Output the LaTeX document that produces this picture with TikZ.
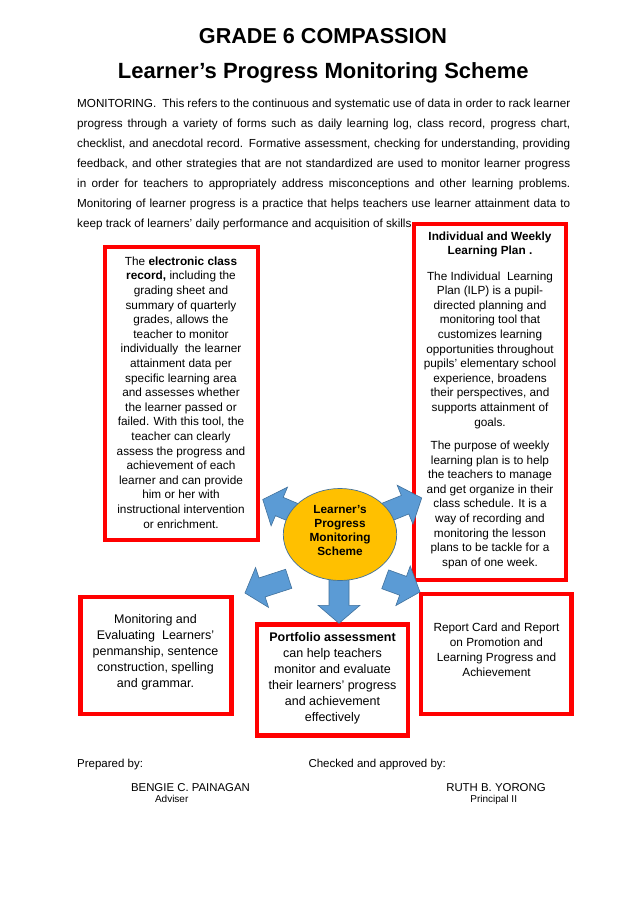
\documentclass[tikz,border=0pt]{standalone}
\usepackage{fontspec}
\setmainfont{Liberation Sans}
\usetikzlibrary{shapes.geometric}
\definecolor{boxred}{RGB}{255,0,0}
\definecolor{arrowblue}{RGB}{91,155,213}
\definecolor{arrowline}{RGB}{65,113,156}
\definecolor{hubgold}{RGB}{255,192,0}
\newcommand{\blockarr}[3]{\draw[blockarrow, shift={#1}, rotate=#2] (0,-10) -- (#3-18,-10) -- (#3-18,-21) -- (#3,0) -- (#3-18,21) -- (#3-18,10) -- (0,10) -- cycle;}
\begin{document}
\begin{tikzpicture}[x=1pt,y=-1pt,
  redbox/.style={draw=boxred, line width=4.4pt, fill=white, inner sep=0pt, rectangle},
  boxtext/.style={align=center, inner sep=0pt, font=\fontsize{11.8}{14.6}\selectfont},
  bigtext/.style={align=center, inner sep=0pt, font=\fontsize{12.5}{16}\selectfont},
  foot/.style={anchor=base west, inner sep=0pt, font=\fontsize{11.5}{14}\selectfont},
  namefoot/.style={anchor=base, inner sep=0pt, font=\fontsize{11.4}{14}\selectfont},
  smallfoot/.style={anchor=base, inner sep=0pt, font=\fontsize{10}{12}\selectfont},
  blockarrow/.style={fill=arrowblue, draw=arrowline, line width=0.6pt, line join=miter}]
\useasboundingbox[fill=white] (0,0) rectangle (638,902);

% titles
\node[anchor=base, inner sep=0pt, font=\fontsize{21.6}{26}\selectfont\bfseries] (title) at (323,43.3) {GRADE 6 COMPASSION};
\node[anchor=base, inner sep=0pt, font=\fontsize{22}{26}\selectfont\bfseries] (subtitle) at (323.3,78.3) {Learner’s Progress Monitoring Scheme};

% intro paragraph
\node[anchor=north west, inner sep=0pt, text width=493pt, align=justify, font=\fontsize{11.7}{20}\selectfont] (intro) at (77,98.5)
{\tolerance=10000 \hyphenpenalty=10000
MONITORING.\ \ This refers to the continuous and systematic use of data in order to rack learner\linebreak
progress through a variety of forms such as daily learning log, class record, progress chart,\linebreak
checklist, and anecdotal record. Formative assessment, checking for understanding, providing\linebreak
feedback, and other strategies that are not standardized are used to monitor learner progress\linebreak
in order for teachers to appropriately address misconceptions and other learning problems.\linebreak
Monitoring of learner progress is a practice that helps teachers use learner attainment data to\linebreak
keep track of learners’ daily performance and acquisition of skills};

% boxes
\node[redbox, minimum width=153, minimum height=293] (lbox) at (181.5,393.5) {};
\node[redbox, minimum width=152, minimum height=356] (rbox) at (490,402) {};
\node[redbox, minimum width=151, minimum height=117] (blbox) at (155.8,655.5) {};
\node[redbox, minimum width=151, minimum height=111] (pbox) at (332.5,679.8) {};
\node[redbox, minimum width=150.5, minimum height=120.3] (brbox) at (496.3,653.9) {};

% box texts
\node[boxtext] (ltext) at (181,392.5) {The \textbf{electronic class}\\ \textbf{record,} including the\\ grading sheet and\\ summary of quarterly\\ grades, allows the\\ teacher to monitor\\ individually\ \ the learner\\ attainment data per\\ specific learning area\\ and assesses whether\\ the learner passed or\\ failed. With this tool, the\\ teacher can clearly\\ assess the progress and\\ achievement of each\\ learner and can provide\\ him or her with\\ instructional intervention\\ or enrichment.};

\node[boxtext] (rtext) at (490,400.3) {\textbf{Individual and Weekly}\\[-1pt] \textbf{Learning Plan .}\\[11.5pt] The Individual\ \ Learning\\ Plan (ILP) is a pupil-\\ directed planning and\\ monitoring tool that\\ customizes learning\\ opportunities throughout\\ pupils' elementary school\\ experience, broadens\\ their perspectives, and\\ supports attainment of\\ goals.\\[8.8pt] The purpose of weekly\\ learning plan is to help\\ the teachers to manage\\ and get organize in their\\ class schedule. It is a\\ way of recording and\\ monitoring the lesson\\ plans to be tackle for a\\ span of one week.};

\node[bigtext] (bltext) at (155.5,652) {Monitoring and\\ Evaluating\ \ Learners’\\ penmanship, sentence\\ construction, spelling\\ and grammar.};
\node[bigtext] (ptext) at (332.5,678.3) {\textbf{Portfolio assessment}\\ can help teachers\\ monitor and evaluate\\ their learners’ progress\\ and achievement\\ effectively};
\node[boxtext, font=\fontsize{11.8}{14.9}\selectfont] (brtext) at (496.5,650) {Report Card and Report\\ on Promotion and\\ Learning Progress and\\ Achievement};

% block arrows
\blockarr{(301.4,515.9)}{157}{42}
\blockarr{(382.8,513.7)}{22}{42}
\blockarr{(288.7,578.8)}{198}{46}
\blockarr{(385.2,579.3)}{-20}{37}
\blockarr{(339,578.3)}{-90}{45}

% hub
\node[ellipse, fill=hubgold, draw=arrowline, line width=0.7pt, minimum width=113.4, minimum height=92, inner sep=0pt] (hub) at (340,534.5) {};
\node[align=center, inner sep=0pt, font=\fontsize{11.8}{14.1}\selectfont\bfseries] (hubtext) at (340,530.5) {Learner's\\ Progress\\ Monitoring\\ Scheme};

% footer
\node[foot] (prep) at (77,767) {Prepared by:};
\node[foot] (check) at (308.3,767) {Checked and approved by:};
\node[namefoot] (bengie) at (190.5,791.5) {BENGIE C. PAINAGAN};
\node[namefoot] (ruth) at (496,791.5) {RUTH B. YORONG};
\node[smallfoot] (adviser) at (171.7,802.5) {Adviser};
\node[smallfoot] (principal) at (493.7,802.5) {Principal II};
\end{tikzpicture}
\end{document}
